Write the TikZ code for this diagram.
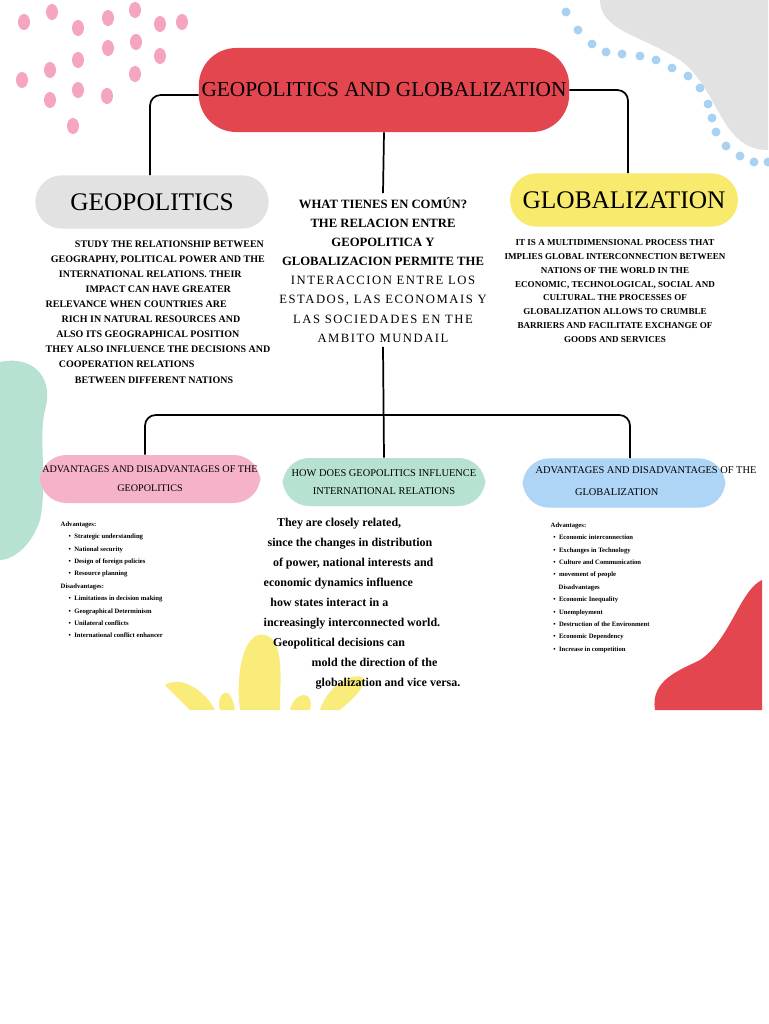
\documentclass[tikz,border=0pt]{standalone}
\usepackage{fontspec}
\setmainfont{Liberation Serif}
\newfontfamily\spaced[LetterSpace=12]{Liberation Serif}
\begin{document}
\begin{tikzpicture}[x=0.75pt,y=-0.75pt,
  box/.style={rounded corners=20pt,minimum height=#1,inner sep=2pt},
  ln/.style={line width=1.3pt,rounded corners=8pt},
  body/.style={font=\bfseries\fontsize{7.5}{11.3}\selectfont,align=center},
  lst/.style={font=\bfseries\fontsize{5}{9.3}\selectfont,align=left,anchor=north west}]
\useasboundingbox[fill=white] (0,0) rectangle (768,1024);
\definecolor{tred}{HTML}{E4464F}
\definecolor{tgrey}{HTML}{E2E2E2}
\definecolor{tyel}{HTML}{F8EA6C}
\definecolor{tpink}{HTML}{F5B2C8}
\definecolor{tgreen}{HTML}{B7E2D2}
\definecolor{tblue}{HTML}{AED5F6}
\definecolor{dpink}{HTML}{F6A5BE}
\definecolor{dblue}{HTML}{A9D2F2}
% decorations
\foreach \p in {(24,22),(52,12),(78,28),(108,18),(135,10),(160,24),(182,22),(22,80),(50,70),(78,60),(108,48),(136,42),(160,56),(50,100),(78,90),(107,96),(135,74),(73,126)}
  \fill[dpink] \p ellipse (6 and 8);
\fill[tgrey] (600,0) -- (768,0) -- (768,150) .. controls (720,150) and (720,90) .. (680,60) .. controls (640,35) and (600,30) .. (600,0) -- cycle;
\foreach \p in {(566,12),(578,30),(592,44),(606,52),(622,54),(640,56),(656,60),(672,68),(688,76),(700,88),(708,104),(712,118),(716,132),(726,146),(740,156),(754,162),(768,162)}
  \fill[dblue] \p circle (4.5);
\fill[tgreen] (0,362) .. controls (30,355) and (55,375) .. (45,410) .. controls (38,440) and (48,480) .. (40,520) .. controls (30,550) and (10,560) .. (0,560) -- cycle;
\fill[tyel!90!white] (240,710) .. controls (235,670) and (245,630) .. (265,635) .. controls (285,640) and (280,680) .. (280,710) -- cycle;
\fill[tyel!90!white] (165,685) .. controls (180,675) and (205,690) .. (215,710) -- (190,710) -- cycle;
\fill[tyel!90!white] (220,710) .. controls (215,695) and (230,680) .. (235,710) -- cycle;
\fill[tyel!90!white] (290,710) .. controls (295,690) and (315,690) .. (310,710) -- cycle;
\fill[tyel!90!white] (320,710) .. controls (330,680) and (360,670) .. (365,680) .. controls (360,695) and (345,705) .. (340,710) -- cycle;
\fill[tred] (655,710) .. controls (650,680) and (680,670) .. (700,660) .. controls (730,640) and (740,590) .. (762,580) -- (762,710) -- cycle;
% nodes
\node[box=63pt,fill=tred,minimum width=276pt,rounded corners=28pt,font=\fontsize{16}{18}\selectfont] (title) at (384,90) {GEOPOLITICS AND GLOBALIZATION};
\node[box=40pt,fill=tgrey,minimum width=175pt,font=\fontsize{19}{22}\selectfont] (geo) at (152,202) {GEOPOLITICS};
\node[box=40pt,fill=tyel,minimum width=171pt,font=\fontsize{19}{22}\selectfont] (glo) at (624,200) {GLOBALIZATION};
\node[body,font=\bfseries\fontsize{9.5}{14.3}\selectfont] (mid) at (383,270) {WHAT TIENES EN COMÚN?\\ THE RELACION ENTRE\\ GEOPOLITICA Y\\ GLOBALIZACION PERMITE THE\\ {\spaced\mdseries INTERACCION ENTRE LOS}\\ {\spaced\mdseries ESTADOS, LAS ECONOMAIS Y}\\ {\spaced\mdseries LAS SOCIEDADES EN THE}\\ {\spaced\mdseries AMBITO MUNDAIL}};
\node[body,align=left] (geot) at (158,312) {\hspace{22pt}STUDY THE RELATIONSHIP BETWEEN\\ \hspace{4pt}GEOGRAPHY, POLITICAL POWER AND THE\\ \hspace{10pt}INTERNATIONAL RELATIONS. THEIR\\ \hspace{30pt}IMPACT CAN HAVE GREATER\\ RELEVANCE WHEN COUNTRIES ARE\\ \hspace{12pt}RICH IN NATURAL RESOURCES AND\\ \hspace{8pt}ALSO ITS GEOGRAPHICAL POSITION\\ THEY ALSO INFLUENCE THE DECISIONS AND\\ \hspace{10pt}COOPERATION RELATIONS\\ \hspace{22pt}BETWEEN DIFFERENT NATIONS};
\node[body,font=\bfseries\fontsize{6.8}{10.4}\selectfont] (glot) at (615,291) {IT IS A MULTIDIMENSIONAL PROCESS THAT\\ IMPLIES GLOBAL INTERCONNECTION BETWEEN\\ NATIONS OF THE WORLD IN THE\\ ECONOMIC, TECHNOLOGICAL, SOCIAL AND\\ CULTURAL. THE PROCESSES OF\\ GLOBALIZATION ALLOWS TO CRUMBLE\\ BARRIERS AND FACILITATE EXCHANGE OF\\ GOODS AND SERVICES};
\node[box=36pt,fill=tpink,minimum width=152pt,align=center,font=\fontsize{7.6}{14}\selectfont] (b1) at (150,479) {ADVANTAGES AND DISADVANTAGES OF THE\\ GEOPOLITICS};
\node[box=36pt,fill=tgreen,minimum width=152pt,align=center,font=\fontsize{7.8}{14}\selectfont] (b2) at (384,482) {HOW DOES GEOPOLITICS INFLUENCE\\ INTERNATIONAL RELATIONS};
\node[box=37pt,fill=tblue,minimum width=152pt,align=center,font=\fontsize{7.8}{16}\selectfont] (b3) at (624,483) {};
\node[align=center,font=\fontsize{7.8}{16}\selectfont] (b3t) at (646,481) {ADVANTAGES AND DISADVANTAGES OF THE\\ \hspace*{-44pt}GLOBALIZATION};
\node[lst] (l1) at (56,517) {Advantages:\\ \hspace{6pt}\textbullet\ \ Strategic understanding\\ \hspace{6pt}\textbullet\ \ National security\\ \hspace{6pt}\textbullet\ \ Design of foreign policies\\ \hspace{6pt}\textbullet\ \ Resource planning\\ Disadvantages:\\ \hspace{6pt}\textbullet\ \ Limitations in decision making\\ \hspace{6pt}\textbullet\ \ Geographical Determinism\\ \hspace{6pt}\textbullet\ \ Unilateral conflicts\\ \hspace{6pt}\textbullet\ \ International conflict enhancer};
\node[lst] (l3) at (546,518) {Advantages:\\ \hspace{2pt}\textbullet\ \ Economic interconnection\\ \hspace{2pt}\textbullet\ \ Exchanges in Technology\\ \hspace{2pt}\textbullet\ \ Culture and Communication\\ \hspace{2pt}\textbullet\ \ movement of people\\ \hspace{6pt}Disadvantages\\ \hspace{2pt}\textbullet\ \ Economic Inequality\\ \hspace{2pt}\textbullet\ \ Unemployment\\ \hspace{2pt}\textbullet\ \ Destruction of the Environment\\ \hspace{2pt}\textbullet\ \ Economic Dependency\\ \hspace{2pt}\textbullet\ \ Increase in competition};
\node[body,align=left,font=\bfseries\fontsize{9}{15}\selectfont] (mt) at (362,604) {\hspace{10pt}They are closely related,\\ \hspace{3pt}since the changes in distribution\\ \hspace{7pt}of power, national interests and\\ economic dynamics influence\\ \hspace{5pt}how states interact in a\\ increasingly interconnected world.\\ \hspace{7pt}Geopolitical decisions can\\ \hspace{36pt}mold the direction of the\\ \hspace{39pt}globalization and vice versa.};
% connectors
\draw[ln] (title.west |- 0,95) -- (150,95) -- (geo.north -| 150,0);
\draw[ln] (title.east |- 0,90) -- (628,90) -- (glo.north -| 628,0);
\draw[ln] (title.south) -- (mid.north);
\draw[ln] (mid.south) -- (b2.north);
\draw[ln] (b1.north -| 145,0) -- (145,415) -- (630,415) -- (b3.north -| 630,0);
\end{tikzpicture}
\end{document}
